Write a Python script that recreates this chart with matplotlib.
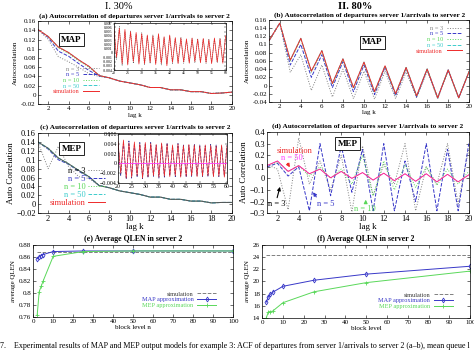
import numpy as np
import matplotlib.pyplot as plt

plt.rcParams['font.family'] = ['Liberation Serif', 'DejaVu Serif']
plt.rcParams['axes.linewidth'] = 0.5

lags = list(range(1, 21))
inset_lags = list(range(20, 61))
blocks = [2, 3, 4, 5, 10, 25, 50, 100]

# (a) 30%, MAP
a_sim = [0.142, 0.127, 0.104, 0.092, 0.076, 0.062, 0.042, 0.037, 0.030, 0.026,
         0.022, 0.016, 0.016, 0.011, 0.011, 0.007, 0.007, 0.003, 0.004, 0.006]
a_n3 = [0.142, 0.121, 0.083, 0.072, 0.060, 0.046, 0.040, 0.037, 0.030, 0.026,
        0.022, 0.016, 0.016, 0.011, 0.011, 0.007, 0.007, 0.003, 0.004, 0.006]
a_n5 = [0.142, 0.125, 0.095, 0.084, 0.068, 0.053, 0.041, 0.037, 0.030, 0.026,
        0.022, 0.016, 0.016, 0.011, 0.011, 0.007, 0.007, 0.003, 0.004, 0.006]
a_n10 = [0.142, 0.127, 0.102, 0.090, 0.074, 0.060, 0.042, 0.037, 0.030, 0.026,
         0.022, 0.016, 0.016, 0.011, 0.011, 0.007, 0.007, 0.003, 0.004, 0.006]
a_in_sim = [0.006, -0.001, 0.0058, -0.0025, 0.0055, -0.0028, 0.005, -0.002, 0.0048, -0.0026,
            0.0045, -0.0025, 0.0042, -0.0022, 0.004, -0.0027, 0.0045, -0.0024, 0.0038, -0.003,
            0.0042, -0.0022, 0.0036, -0.0025, 0.0035, -0.0021, 0.0033, -0.0024, 0.0035, -0.002,
            0.0032, -0.0023, 0.0034, -0.0022, 0.0031, -0.0025, 0.0035, -0.0021, 0.0033, -0.0024,
            0.004]
a_in_n3 = [0.0055, -0.0015, 0.0062, -0.003, 0.005, -0.0025, 0.0052, -0.0024, 0.0044, -0.0022,
           0.0047, -0.0028, 0.004, -0.0025, 0.0042, -0.0024, 0.0043, -0.0028, 0.0036, -0.0026,
           0.004, -0.0025, 0.0034, -0.0022, 0.0037, -0.0024, 0.0031, -0.0022, 0.0033, -0.0023,
           0.0034, -0.0021, 0.0032, -0.0024, 0.0033, -0.0023, 0.0033, -0.0023, 0.0035, -0.0022,
           0.0038]

# (b) 80%, MAP
b_sim = [0.11, 0.152, 0.062, 0.115, 0.035, 0.085, 0.005, 0.065, -0.005, 0.057,
         -0.015, 0.048, -0.02, 0.044, -0.025, 0.04, -0.03, 0.038, -0.03, 0.035]
b_n3 = [0.11, 0.152, 0.032, 0.075, -0.012, 0.05, -0.028, 0.04, -0.032, 0.035,
        -0.033, 0.035, -0.032, 0.033, -0.03, 0.035, -0.032, 0.036, -0.03, 0.035]
b_n5 = [0.11, 0.152, 0.05, 0.10, 0.02, 0.075, -0.005, 0.058, -0.015, 0.05,
        -0.022, 0.045, -0.025, 0.042, -0.028, 0.04, -0.03, 0.038, -0.03, 0.035]
b_n10 = [0.11, 0.152, 0.06, 0.113, 0.032, 0.083, 0.003, 0.063, -0.007, 0.055,
         -0.017, 0.047, -0.021, 0.043, -0.026, 0.04, -0.03, 0.038, -0.03, 0.035]

# (c) 30%, MEP
c_sim = [0.140, 0.126, 0.104, 0.091, 0.076, 0.062, 0.042, 0.037, 0.030, 0.026,
         0.022, 0.016, 0.016, 0.011, 0.011, 0.007, 0.007, 0.003, 0.004, 0.004]
c_n3 = [0.140, 0.080, 0.130, 0.085, 0.062, 0.058, 0.042, 0.037, 0.030, 0.026,
        0.022, 0.016, 0.016, 0.011, 0.011, 0.007, 0.007, 0.003, 0.004, 0.004]
c_n5 = [0.140, 0.124, 0.100, 0.090, 0.074, 0.061, 0.042, 0.037, 0.030, 0.026,
        0.022, 0.016, 0.016, 0.011, 0.011, 0.007, 0.007, 0.003, 0.004, 0.004]
c_in_sim = [0.0045, -0.002, 0.0048, -0.003, 0.0042, -0.0028, 0.0044, -0.0025, 0.004, -0.003,
            0.0043, -0.0027, 0.0041, -0.0025, 0.0039, -0.0028, 0.0042, -0.0026, 0.004, -0.0027,
            0.0038, -0.0025, 0.004, -0.0028, 0.0037, -0.0026, 0.0039, -0.0025, 0.0038, -0.0027,
            0.0036, -0.0026, 0.0038, -0.0025, 0.0037, -0.0027, 0.0036, -0.0026, 0.0038, -0.0028,
            0.0036]
c_in_n5 = [0.004, -0.0025, 0.0044, -0.0032, 0.0046, -0.003, 0.004, -0.0028, 0.0043, -0.0031,
           0.004, -0.0029, 0.0043, -0.0027, 0.0037, -0.003, 0.004, -0.0028, 0.0042, -0.0025,
           0.0036, -0.0027, 0.0041, -0.0026, 0.0039, -0.0028, 0.0037, -0.0027, 0.004, -0.0025,
           0.0038, -0.0028, 0.0036, -0.0027, 0.0039, -0.0026, 0.0038, -0.0027, 0.0036, -0.0026,
           0.0038]

# (d) 80%, MEP
d_sim = [0.11, 0.15, 0.06, 0.11, 0.04, 0.08, 0.005, 0.06, 0.0, 0.05,
         -0.015, 0.045, -0.02, 0.04, -0.025, 0.04, -0.03, 0.035, -0.03, 0.03]
d_n3 = [0.12, 0.08, -0.27, 0.35, -0.05, 0.15, -0.1, 0.2, -0.29, 0.28,
        -0.15, 0.12, -0.05, 0.3, -0.28, 0.1, -0.05, 0.3, -0.22, 0.25]
d_n5 = [0.10, 0.13, 0.02, 0.10, -0.28, 0.30, -0.15, 0.28, -0.12, 0.25,
        -0.28, 0.30, -0.28, 0.15, -0.20, 0.30, -0.28, 0.25, -0.28, 0.30]
d_n10 = [0.11, 0.14, 0.06, 0.11, 0.02, 0.10, 0.0, 0.08, -0.05, 0.2,
         -0.15, 0.15, -0.1, 0.12, -0.08, 0.1, -0.06, 0.08, -0.05, 0.06]

# (e), (f) average QLEN
e_sim = 0.869
e_map = [0.857, 0.860, 0.862, 0.864, 0.869, 0.870, 0.870, 0.870]
e_mep = [0.763, 0.802, 0.811, 0.820, 0.861, 0.869, 0.870, 0.870]
f_sim = 24.4
f_map = [16.6, 17.5, 17.9, 18.2, 19.2, 20.2, 21.2, 22.5]
f_mep = [14.0, 15.0, 15.05, 15.1, 16.5, 18.3, 19.8, 21.7]

GRAY, BLUE, GREEN, CYAN, RED, MAG = '#808080', '#3838c8', '#5ad85a', '#3ccccc', '#ee2a2a', '#ff40ff'
lw = 0.7
TFS = 5.2  # acf panel title size
QFS = 5.6  # qlen panel title size


def style(ax, fs):
    ax.tick_params(direction='in', top=True, right=True, labelsize=fs,
                   length=2, width=0.4, pad=1.5)


def boxlabel(ax, x, y, s):
    ax.text(x, y, s, fontsize=6.5, fontweight='bold', ha='center', va='center',
            bbox=dict(boxstyle='square,pad=0.25', fc='white', ec='black', lw=0.6))


fig = plt.figure(figsize=(4.74, 3.54), dpi=100)

fig.text(0.25, 0.982, 'I. 30%', fontsize=7.5, ha='center', va='center')
fig.text(0.75, 0.982, 'II. 80%', fontsize=7.5, fontweight='bold', ha='center', va='center')

# ---- (a)
ax = fig.add_axes([0.080, 0.706, 0.409, 0.234])
ax.plot(lags, a_n3, ':', color=GRAY, lw=lw, label='n = 3')
ax.plot(lags, a_n5, '--', color=BLUE, lw=lw, label='n = 5')
ax.plot(lags, a_n10, ':', color=GREEN, lw=lw, label='n = 10')
ax.plot(lags, a_sim, '--', color=CYAN, lw=lw, label='n = 50')
ax.plot(lags, a_sim, '-', color=RED, lw=lw, label='simulation')
ax.set_xlim(1, 20)
ax.set_ylim(-0.02, 0.16)
ax.set_xticks(range(2, 21, 2))
ax.set_yticks(np.arange(-0.02, 0.161, 0.02))
ax.set_yticklabels(['-0.02', '0', '0.02', '0.04', '0.06', '0.08', '0.1', '0.12', '0.14', '0.16'])
style(ax, 5)
ax.set_xlabel('lag k', fontsize=5, labelpad=1)
ax.set_ylabel('Autocorrelation', fontsize=5, labelpad=2)
ax.set_title('(a) Autocorrelation of departures server 1/arrivals to server 2',
             fontsize=TFS, fontweight='bold', pad=2.5)
ax.legend(loc='lower left', bbox_to_anchor=(0.06, 0.08), markerfirst=False, frameon=False,
          fontsize=4.5, labelcolor='linecolor', handlelength=2.5, handletextpad=0.6,
          labelspacing=0.05, borderpad=0)
boxlabel(ax, 4.3, 0.12, 'MAP')

ins = fig.add_axes([0.240, 0.802, 0.236, 0.133])
ins.plot(inset_lags, a_in_n3, ':', color='#404040', lw=0.5)
ins.plot(inset_lags, a_in_sim, '-', color=RED, lw=0.5)
ins.set_xlim(20, 60)
ins.set_ylim(-0.004, 0.007)
ins.set_xticks(range(20, 61, 5))
ins.set_yticks(np.arange(-0.004, 0.0071, 0.001))
ins.set_yticklabels(['-0.004', '-0.003', '-0.002', '-0.001', '0', '0.001', '0.002',
                     '0.003', '0.004', '0.005', '0.006', '0.007'])
ins.tick_params(direction='in', top=True, right=True, labelsize=2.8, length=1.2, width=0.3, pad=0.8)

# ---- (b)
ax = fig.add_axes([0.568, 0.712, 0.422, 0.232])
ax.plot(lags, b_n3, ':', color=GRAY, lw=lw, label='n = 3')
ax.plot(lags, b_n5, '--', color=BLUE, lw=lw, label='n = 5')
ax.plot(lags, b_n10, ':', color=GREEN, lw=lw, label='n = 10')
ax.plot(lags, b_sim, '--', color=CYAN, lw=lw, label='n = 50')
ax.plot(lags, b_sim, '-', color=RED, lw=lw, label='simulation')
ax.set_xlim(1, 20)
ax.set_ylim(-0.04, 0.16)
ax.set_xticks(range(2, 21, 2))
ax.set_yticks(np.arange(-0.04, 0.161, 0.02))
ax.set_yticklabels(['-0.04', '-0.02', '0', '0.02', '0.04', '0.06', '0.08', '0.1',
                    '0.12', '0.14', '0.16'])
style(ax, 5)
ax.set_xlabel('lag k', fontsize=5, labelpad=1)
ax.set_ylabel('Autocorrelation', fontsize=5, labelpad=2)
ax.set_title('(b) Autocorrelation of departures server 1/arrivals to server 2',
             fontsize=TFS, fontweight='bold', pad=2.5)
ax.legend(loc='upper right', bbox_to_anchor=(0.98, 0.97), markerfirst=False, frameon=False,
          fontsize=4.5, labelcolor='linecolor', handlelength=2.5, handletextpad=0.6,
          labelspacing=0.05, borderpad=0)
boxlabel(ax, 10.8, 0.105, 'MAP')

# ---- (c)
ax = fig.add_axes([0.080, 0.398, 0.409, 0.226])
ax.plot(lags, c_n3, ':', color=GRAY, lw=lw, label='n = 3')
ax.plot(lags, c_n5, '--', color=BLUE, lw=lw, label='n = 5')
ax.plot(lags, c_sim, ':', color=GREEN, lw=lw, label='n = 10')
ax.plot(lags, c_sim, '--', color=CYAN, lw=lw, label='n = 50')
ax.plot(lags, c_sim, '-', color='#555555', lw=lw, label='simulation')
ax.set_xlim(1, 20)
ax.set_ylim(-0.02, 0.16)
ax.set_xticks(range(2, 21, 2))
ax.set_yticks(np.arange(-0.02, 0.161, 0.02))
ax.set_yticklabels(['\u22120.02', '0', '0.02', '0.04', '0.06', '0.08', '0.1', '0.12', '0.14', '0.16'])
style(ax, 6)
ax.set_xlabel('lag k', fontsize=6.5, labelpad=0)
ax.set_ylabel('Auto Correlation', fontsize=6.5, labelpad=1)
ax.set_title('(c) Autocorrelation of departures server 1/arrivals to server 2',
             fontsize=TFS, fontweight='bold', pad=3.5)
leg = ax.legend(loc='lower left', bbox_to_anchor=(0.04, 0.02), markerfirst=False, frameon=False,
                fontsize=6, handlelength=2.0, handletextpad=0.3,
                labelspacing=0.0, borderpad=0)
for t, c in zip(leg.get_texts(), ['black', BLUE, GREEN, CYAN, RED]):
    t.set_color(c)
leg.get_lines()[4].set_color(RED)
boxlabel(ax, 4.3, 0.125, 'MEP')

ins = fig.add_axes([0.249, 0.483, 0.230, 0.138])
ins.plot(inset_lags, c_in_n5, '--', color='#2a2a90', lw=0.5)
ins.plot(inset_lags, c_in_sim, '-', color=RED, lw=0.5)
ins.axhline(0, color=MAG, lw=0.6)
ins.set_xlim(20, 60)
ins.set_ylim(-0.004, 0.006)
ins.set_xticks(range(20, 61, 5))
ins.set_yticks(np.arange(-0.004, 0.0061, 0.002))
ins.set_yticklabels(['\u22120.004', '\u22120.002', '0', '0.002', '0.004', '0.006'])
ins.tick_params(direction='in', top=True, right=True, labelsize=4.2, length=1.5, width=0.3, pad=1)

# ---- (d)
ax = fig.add_axes([0.563, 0.398, 0.426, 0.229])
ax.plot(lags, d_n3, ':', color=GRAY, lw=lw)
ax.plot(lags, d_n5, '--', color=BLUE, lw=lw)
ax.plot(lags, d_n10, ':', color=GREEN, lw=lw)
ax.plot(lags, d_sim, '-', color=MAG, lw=lw)
ax.plot(lags, d_sim, '-', color=RED, lw=0.5, alpha=0.7)
ax.set_xlim(1, 20)
ax.set_ylim(-0.3, 0.4)
ax.set_xticks(range(2, 21, 2))
ax.set_yticks(np.arange(-0.3, 0.41, 0.1))
ax.set_yticklabels(['\u22120.3', '\u22120.2', '\u22120.1', '0', '0.1', '0.2', '0.3', '0.4'])
style(ax, 6)
ax.set_xlabel('lag k', fontsize=6.5, labelpad=0)
ax.set_ylabel('Auto Correlation', fontsize=6.5, labelpad=1)
ax.set_title('(d) Autocorrelation of departures server 1/arrivals to server 2',
             fontsize=TFS, fontweight='bold', pad=3.5)
boxlabel(ax, 8.6, 0.3, 'MEP')
ax.text(1.9, 0.215, 'simulation', color=RED, fontsize=6)
ax.text(2.3, 0.155, 'n = 50', color=MAG, fontsize=6)
ax.annotate('', xy=(3.3, 0.075), xytext=(2.8, 0.15),
            arrowprops=dict(arrowstyle='-|>', color=RED, lw=0.8, mutation_scale=5))
ax.text(1.1, -0.235, 'n = 3', color='black', fontsize=6)
ax.annotate('', xy=(2.3, -0.05), xytext=(1.9, -0.19),
            arrowprops=dict(arrowstyle='-|>', color='black', lw=0.8, mutation_scale=5))
ax.text(5.7, -0.235, 'n = 5', color=BLUE, fontsize=6)
ax.annotate('', xy=(5.2, -0.1), xytext=(5.8, -0.18),
            arrowprops=dict(arrowstyle='-|>', color=BLUE, lw=0.8, mutation_scale=5))
ax.text(9.2, -0.285, 'n = 10', color=GREEN, fontsize=6)
ax.annotate('', xy=(10.3, -0.16), xytext=(10.3, -0.24),
            arrowprops=dict(arrowstyle='-|>', color=GREEN, lw=0.8, mutation_scale=5))

# ---- (e)
ax = fig.add_axes([0.070, 0.105, 0.422, 0.203])
ax.hlines(e_sim, blocks[0], blocks[-1], colors=GRAY, linestyles='--', lw=lw, label='simulation')
ax.plot(blocks, e_map, '-', color=BLUE, lw=lw, marker='d', ms=2.5, mfc='none', mew=0.6,
        label='MAP approximation')
ax.plot(blocks, e_mep, '-', color=GREEN, lw=lw, marker='+', ms=3, mew=0.6,
        label='MEP approximation')
ax.set_xlim(0, 100)
ax.set_ylim(0.76, 0.88)
ax.set_xticks(range(0, 101, 10))
ax.set_yticks(np.arange(0.76, 0.881, 0.02))
ax.set_yticklabels(['0.76', '0.78', '0.8', '0.82', '0.84', '0.86', '0.88'])
style(ax, 5)
ax.set_xlabel('block level n', fontsize=5, labelpad=1)
ax.set_ylabel('average QLEN', fontsize=5, labelpad=2)
ax.set_title('(e) Average QLEN in server 2', fontsize=QFS, fontweight='bold', pad=3)
leg = ax.legend(loc='lower right', bbox_to_anchor=(0.93, 0.08), markerfirst=False, frameon=False,
                fontsize=4.5, handlelength=3, handletextpad=0.6, labelspacing=0.05, borderpad=0)
for t, c in zip(leg.get_texts(), ['#333333', BLUE, GREEN]):
    t.set_color(c)

# ---- (f)
ax = fig.add_axes([0.553, 0.102, 0.439, 0.206])
ax.hlines(f_sim, blocks[0], blocks[-1], colors=GRAY, linestyles='--', lw=lw, label='simulation')
ax.plot(blocks, f_map, '-', color=BLUE, lw=lw, marker='d', ms=2.5, mfc='none', mew=0.6,
        label='MAP approximation')
ax.plot(blocks, f_mep, '-', color=GREEN, lw=lw, marker='+', ms=3, mew=0.6,
        label='MEP approximation')
ax.set_xlim(0, 100)
ax.set_ylim(14, 26)
ax.set_xticks(range(0, 101, 10))
ax.set_yticks(range(14, 27, 2))
style(ax, 5)
ax.set_xlabel('block level', fontsize=5, labelpad=1)
ax.set_ylabel('average QLEN', fontsize=5, labelpad=2)
ax.set_title('(f) Average QLEN in server 2', fontsize=QFS, fontweight='bold', pad=3)
leg = ax.legend(loc='lower right', bbox_to_anchor=(0.93, 0.08), markerfirst=False, frameon=False,
                fontsize=4.5, handlelength=3, handletextpad=0.6, labelspacing=0.05, borderpad=0)
for t, c in zip(leg.get_texts(), ['#333333', BLUE, GREEN]):
    t.set_color(c)

fig.text(0.0, 0.024, '7.    Experimental results of MAP and MEP output models for example 3: '
         'ACF of departures from server 1/arrivals to server 2 (a\u2013b), mean queue l',
         fontsize=5.75, ha='left', va='center')

fig.savefig('out.png', dpi=100)
